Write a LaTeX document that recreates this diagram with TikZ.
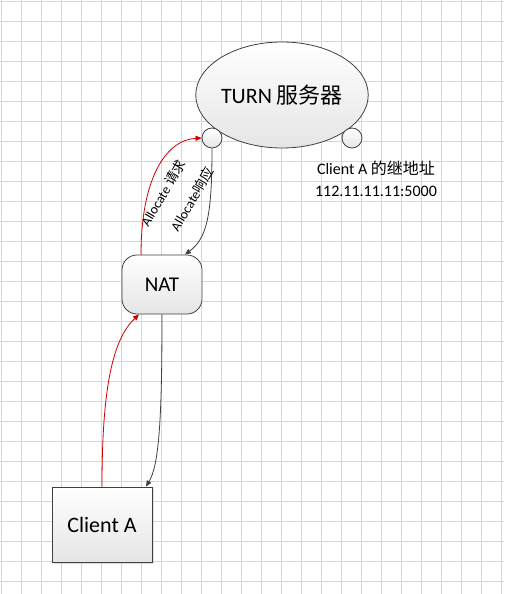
\documentclass[tikz,border=0pt]{standalone}
\usepackage{fontspec}
\setmainfont{Carlito}
\newfontfamily\cjk{Noto Sans CJK SC}
\usetikzlibrary{shapes.geometric,arrows.meta,shadows}

\begin{document}
\begin{tikzpicture}[x=1pt,y=-1pt]
\tikzstyle{every node}+=[inner sep=0pt]
\tikzstyle{gridline}=[draw=black!16, line width=0.8pt]
\tikzstyle{body}=[draw=black!75, line width=0.8pt, top color=white, bottom color=black!10]
\tikzstyle{port}=[body, circle, minimum size=20pt]
\tikzstyle{req}=[draw=red!80!black, line width=0.8pt, -{Triangle[length=6pt,width=5pt]}]
\tikzstyle{resp}=[draw=black!75, line width=0.8pt, -{Triangle[length=6pt,width=5pt]}]
\tikzstyle{lbl}=[font=\fontsize{13.5}{15}\selectfont, rotate=59]
\useasboundingbox (0,0) rectangle (504,594);
% grid
\foreach \x in {1,21,...,501} \draw[gridline] (\x,0) -- (\x,594);
\foreach \y in {1,21,...,581} \draw[gridline] (0,\y) -- (504,\y);
% server and its ports
\node[body, ellipse, minimum width=160pt, minimum height=106pt,
  font=\fontsize{22}{26}\selectfont] (turn) at (282,95) {TURN {\cjk 服务器}};
\node[port] (portL) at (212,138) {};
\node[port] (portR) at (352,138) {};
\node[align=center, font=\fontsize{16}{22}\selectfont] (relay) at (376,179)
  {Client A {\cjk 的继地址}\\112.11.11.11:5000};
% NAT and client
\node[body, rounded corners=15pt, minimum width=80pt, minimum height=59pt,
  font=\fontsize{21}{24}\selectfont] (nat) at (162,284.5) {NAT};
\node[body, minimum width=100pt, minimum height=75pt, drop shadow={shadow xshift=2pt, shadow yshift=-2pt, opacity=0.25},
  font=\fontsize{22}{26}\selectfont] (client) at (102,524.5) {Client A};
% arrows
\draw[req] (client.north) .. controls (102,390) and (112,340) .. ([xshift=-23pt]nat.south);
\draw[resp] (nat.south) .. controls (162,420) and (159,465) .. ([xshift=44pt]client.north);
\draw[req] ([xshift=-21pt]nat.north) .. controls (141,180) and (165,140) .. (portL.west);
\draw[resp] (portL.south) .. controls (212,215) and (207,238) .. ([xshift=23pt]nat.north);
% labels
\node[lbl] (reqlbl) at (163,193) {Allocate {\cjk 请求}};
\node[lbl] (resplbl) at (192,199) {Allocate{\cjk 响应}};
\end{tikzpicture}
\end{document}
